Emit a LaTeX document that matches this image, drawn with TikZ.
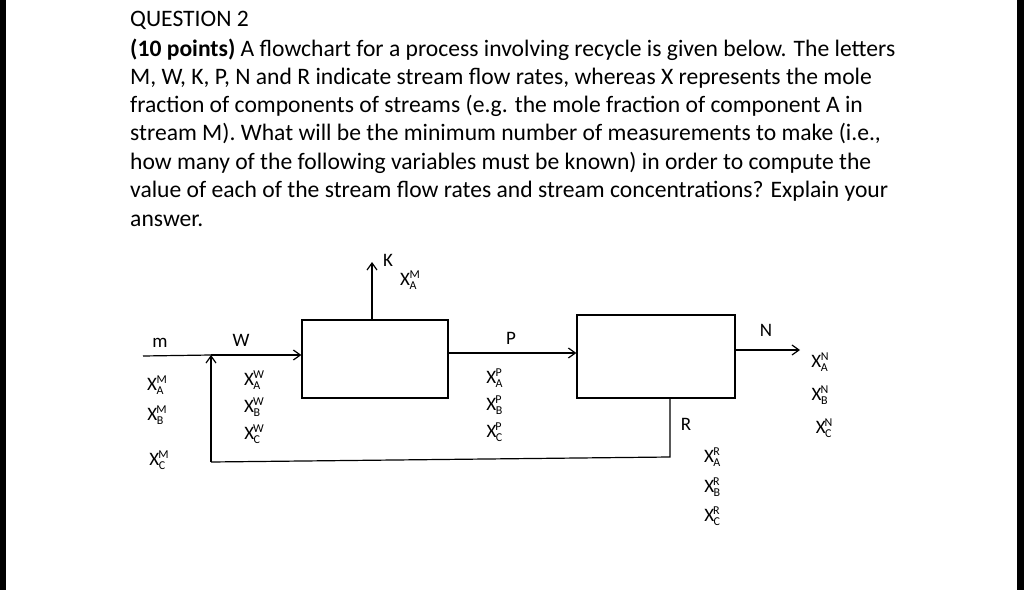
\documentclass[tikz,border=0pt]{standalone}
\usepackage{fontspec}
\setmainfont{Carlito}
\usetikzlibrary{arrows.meta}
\newcommand{\xs}[2]{X\kern-0.5pt\raisebox{-4pt}{\fontsize{12}{12}\selectfont #1}\kern-7pt\raisebox{7pt}{\fontsize{12}{12}\selectfont #2}}
\begin{document}
\begin{tikzpicture}[x=1pt,y=-1pt,
  txt/.style={anchor=base west,inner sep=0pt,font=\fontsize{23.6}{28}\selectfont},
  hw/.style={inner sep=0pt,font=\fontsize{19}{22}\selectfont},
  unit/.style={draw,line width=1.3pt,inner sep=0pt},
  flow/.style={line width=1.2pt,-{Straight Barb[length=7pt,width=10pt]}},
  ln/.style={line width=1.2pt}]
\useasboundingbox (0,0) rectangle (1024,593);
\fill[black] (0,0) rectangle (6,590);
\fill[black] (1017,0) rectangle (1024,590);
\node[txt] (l0) at (130,27) {QUESTION 2};
\node[txt] (l1) at (130,57) {\textbf{(10 points)} A flowchart for a process involving recycle is given below. The letters};
\node[txt] (l2) at (130,85) {M, W, K, P, N and R indicate stream flow rates, whereas X represents the mole};
\node[txt] (l3) at (130,113) {fraction of components of streams (e.g. the mole fraction of component A in};
\node[txt] (l4) at (130,141) {stream M). What will be the minimum number of measurements to make (i.e.,};
\node[txt] (l5) at (130,170) {how many of the following variables must be known) in order to compute the};
\node[txt] (l6) at (130,198) {value of each of the stream flow rates and stream concentrations? Explain your};
\node[txt] (l7) at (130,227) {answer.};
% units
\node[unit,minimum width=146pt,minimum height=78pt] (b1) at (375,359) {};
\node[unit,minimum width=158pt,minimum height=83pt] (b2) at (656,356.5) {};
\coordinate (m0) at (143,356);
\coordinate (mix) at (211,355);
\coordinate (ktop) at (372,262);
\coordinate (nend) at (800,350);
\coordinate (rb) at (670,457);
\coordinate (lb) at (211,462);
\draw[ln] (m0) -- (mix);
\draw[flow] (mix) -- (b1.west|-mix);
\draw[flow] (b1.north-|ktop) -- (ktop);
\draw[flow] (b1.east|-0,353) -- (b2.west|-0,353);
\draw[flow] (b2.east|-nend) -- (nend);
\draw[ln] (b2.south-|rb) -- (rb) -- (lb);
\draw[flow] (lb) -- (mix);
% labels
\node[hw] (lm) at (160,343) {m};
\node[hw] (lw) at (241,340) {W};
\node[hw] (lk) at (388,260) {K};
\node[hw] (lxk) at (410,280) {\xs{A}{M}};
\node[hw] (lp) at (511,338) {P};
\node[hw] (ln) at (766,330) {N};
\node[hw] (lr) at (686,424) {R};
\node[hw] (xm1) at (157,385) {\xs{A}{M}};
\node[hw] (xm2) at (157,415) {\xs{B}{M}};
\node[hw] (xm3) at (159,460) {\xs{C}{M}};
\node[hw] (xw1) at (254,380) {\xs{A}{W}};
\node[hw] (xw2) at (254,407) {\xs{B}{W}};
\node[hw] (xw3) at (254,434) {\xs{C}{W}};
\node[hw] (xp1) at (494,378) {\xs{A}{P}};
\node[hw] (xp2) at (494,405) {\xs{B}{P}};
\node[hw] (xp3) at (494,432) {\xs{C}{P}};
\node[hw] (xr1) at (712,457) {\xs{A}{R}};
\node[hw] (xr2) at (712,487) {\xs{B}{R}};
\node[hw] (xr3) at (712,516) {\xs{C}{R}};
\node[hw] (xn1) at (820,362) {\xs{A}{N}};
\node[hw] (xn2) at (820,395) {\xs{B}{N}};
\node[hw] (xn3) at (824,428) {\xs{C}{N}};
\end{tikzpicture}
\end{document}
